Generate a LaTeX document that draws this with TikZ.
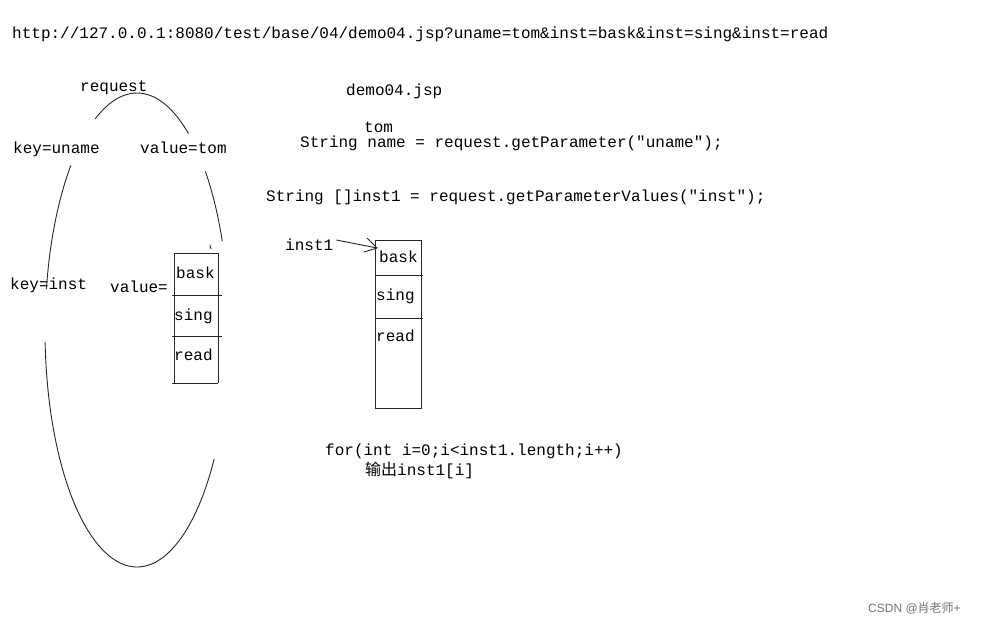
\documentclass[tikz,border=0pt]{standalone}
\usepackage{fontspec}
\setmonofont{Liberation Mono}
\newfontfamily\cjk{Noto Sans CJK SC}
\newfontfamily\sans{Liberation Sans}
\begin{document}
\begin{tikzpicture}[x=1pt,y=-1pt,
  t/.style={anchor=west,inner sep=0pt,font=\fontsize{16}{18}\ttfamily},
  ln/.style={line width=0.9pt,black!85}]
\useasboundingbox[fill=white] (0,0) rectangle (1000,625);
\node[t] (url) at (12,34) {http://127.0.0.1:8080/test/base/04/demo04.jsp?uname=tom\&inst=bask\&inst=sing\&inst=read};
\node[t] (req) at (80,88) {request};
\node[t] (ku) at (13,149) {key=uname};
\node[t] (vt) at (140,148) {value=tom};
\node[t] (ki) at (10,285) {key=inst};
\node[t] (ve) at (110,287) {value=};
\node[t] (jsp) at (346,91) {demo04.jsp};
\node[t] (tom) at (364,127) {tom};
\node[t] (s1) at (300,143) {String name = request.getParameter("uname");};
\node[t] (s2) at (266,197) {String []inst1 = request.getParameterValues("inst");};
\node[t] (i1) at (285,245) {inst1};
\node[t] (f1) at (325,451) {for(int i=0;i<inst1.length;i++)};
\node[t] (f2) at (365,470) {{\cjk 输出}inst1[i]};
\node[anchor=west,inner sep=0pt,font=\fontsize{12}{14}\sans,black!55] (wm) at (868,608) {CSDN @{\cjk 肖老师}+};
% ellipse arcs
\draw[ln] plot[domain=117:56,samples=40] ({137+92*cos(\x)},{330-237*sin(\x)});
\draw[ln] plot[domain=136:170,samples=30] ({137+92*cos(\x)},{330-237*sin(\x)});
\draw[ln] plot[domain=183:327,samples=80] ({137+92*cos(\x)},{330-237*sin(\x)});
\draw[ln] plot[domain=42:22,samples=30] ({137+92*cos(\x)},{330-237*sin(\x)});
% left array
\draw[ln] (174,253) -- (174,383) (218,253) -- (218,383) (174,253) -- (218,253)
  (172,295) -- (222,295) (172,336) -- (222,336) (172,383) -- (218,383);
\draw[ln] (210,245) -- (211,249);
\node[t] (lb) at (176,273) {bask};
\node[t] (ls) at (174,316) {sing};
\node[t] (lr) at (174,355) {read};
% right array
\draw[ln] (375,240) rectangle (421,408);
\draw[ln] (375,275) -- (423,275) (375,318) -- (423,318);
\node[t] (rb) at (379,257) {bask};
\node[t] (rs) at (376,296) {sing};
\node[t] (rr) at (376,336) {read};
\coordinate (tip) at (377,248);
\draw[ln] (i1.east) ++(3,-5) -- (tip);
\draw[ln] (tip) -- ++(-10,-10) (tip) -- ++(-13,4);
\end{tikzpicture}
\end{document}
